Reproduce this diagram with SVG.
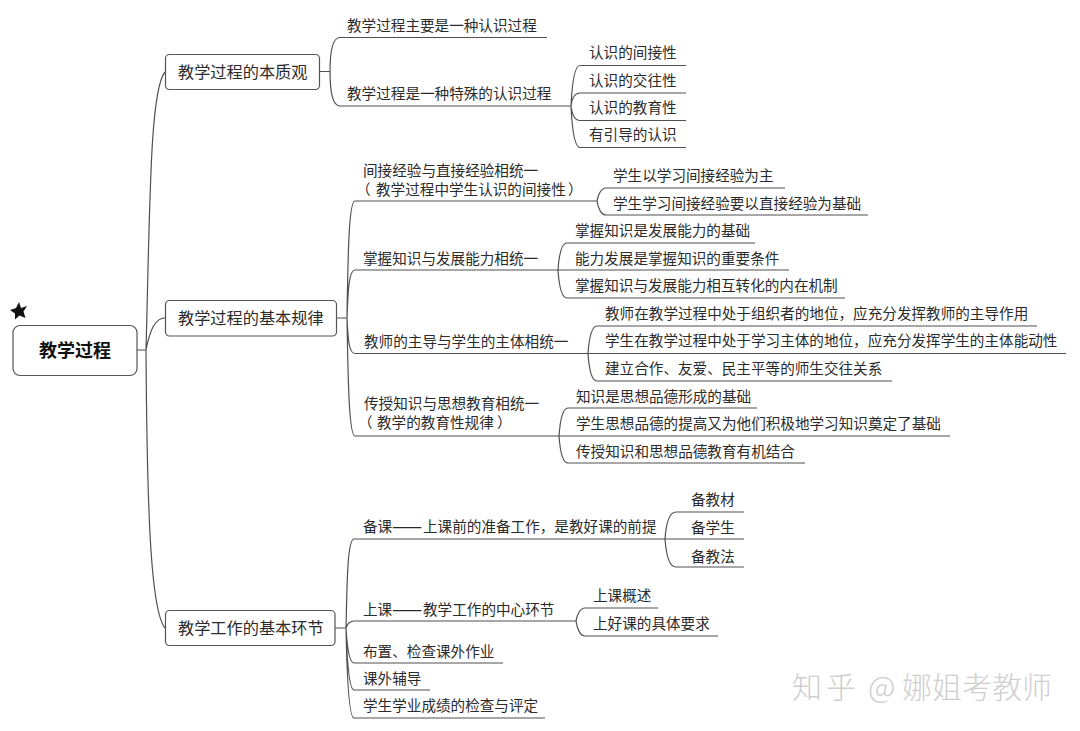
<svg xmlns="http://www.w3.org/2000/svg" width="1080" height="731" viewBox="0 0 1080 731">
<style>
text{font-family:"Noto Sans CJK SC","Liberation Sans",sans-serif;fill:#2b2b2b;font-size:14.6px}
.box{fill:#fff;stroke:#555;stroke-width:1.2}
.l1{font-size:16.2px}
.root{font-size:18px;font-weight:700;fill:#111;text-anchor:middle}
.wm{font-size:30px;font-weight:300;fill:#cfcfcf}
.dash{font-size:18px}
#connectors path{fill:none;stroke:#505050;stroke-width:1.2}
</style>
<rect width="1080" height="731" fill="#fff"/>
<g id="connectors">
<path d="M137 350H146M146 350C150 200 150 90 165 72M146 350C150 330 155 318 165 318M146 350C147 500 150 610 165 628"/>
<path d="M319.500 71.500H330M330 71.500C330 50 333 37.500 340 37.500H547M330 71.500C330 93 333 106 340 106H571"/>
<path d="M571 106C572 85 574 65.500 580 65.500H686M571 106C572 98 574 93 580 93H686M571 106C572 114 574 120.500 580 120.500H686M571 106C572 127 574 147.500 580 147.500H686"/>
<path d="M336.500 318H347M347 318C348 250 349 201 355 201H597M347 318C348 290 349 270 355 270H558M347 318C348 340 349 353.500 355 353.500H588M347 318C348 380 349 436 355 436H559"/>
<path d="M597 201C598 195 601 188 606 188H785M597 201C598 208 601 215 606 215H868"/>
<path d="M558 270C559 255 561 243 567 243H755M558 270H789M558 270C559 285 561 298 567 298H845"/>
<path d="M588 353.500C589 340 591 326 597 326H1037M588 353.500H1066M588 353.500C589 368 591 381 597 381H892"/>
<path d="M559 436C560 422 562 408 568 408H757M559 436H950M559 436C560 450 562 463 568 463H805"/>
<path d="M335 628H346M346 628C347 590 347 539 354 539H665M346 628C347 625 349 621 354 621H576M346 628C347 645 349 663 354 663H503M346 628C347 660 349 690 354 690H430M346 628C347 680 349 718 354 718H545"/>
<path d="M665 539C666 525 669 512 676 512H744M665 539H744M665 539C666 553 669 567 676 567H744"/>
<path d="M576 621C577 615 580 608 585 608H658M576 621C577 628 580 636 585 636H718"/>
</g>
<g id="root">
<rect class="box" x="13" y="325.500" width="124" height="50" rx="7"/>
<text class="root" x="75" y="357">教学过程</text>
<polygon points="19,302 21,308 27,306 23.500,311.500 25.500,318 19.500,315.500 15,319.500 15,313.500 10,310 16,308" fill="#111"/>
</g>
<g id="n-essence"><rect class="box" x="165.500" y="54.500" width="154" height="35" rx="4"/><text class="l1" x="178" y="78">教学过程的本质观</text></g>
<g id="n-laws"><rect class="box" x="165.500" y="300.500" width="171" height="35.500" rx="4"/><text class="l1" x="178" y="324">教学过程的基本规律</text></g>
<g id="n-steps"><rect class="box" x="165.500" y="610.500" width="169.500" height="35" rx="4"/><text class="l1" x="178" y="634">教学工作的基本环节</text></g>
<g id="leaves">
<g id="t1"><text x="347" y="31">教学过程主要是一种认识过程</text></g>
<g id="t2"><text x="347" y="99">教学过程是一种特殊的认识过程</text></g>
<g id="t3"><text x="589" y="58">认识的间接性</text></g>
<g id="t4"><text x="589" y="86">认识的交往性</text></g>
<g id="t5"><text x="589" y="113">认识的教育性</text></g>
<g id="t6"><text x="589" y="140">有引导的认识</text></g>
<g id="t7"><text x="363" y="176">间接经验与直接经验相统一</text><text y="195"><tspan x="356">（</tspan><tspan x="376">教学过程中学生认识的间接性</tspan><tspan x="568">）</tspan></text></g>
<g id="t8"><text x="613" y="181">学生以学习间接经验为主</text></g>
<g id="t9"><text x="613" y="209">学生学习间接经验要以直接经验为基础</text></g>
<g id="t10"><text x="363" y="264">掌握知识与发展能力相统一</text></g>
<g id="t11"><text x="575" y="236">掌握知识是发展能力的基础</text></g>
<g id="t12"><text x="575" y="264">能力发展是掌握知识的重要条件</text></g>
<g id="t13"><text x="575" y="291">掌握知识与发展能力相互转化的内在机制</text></g>
<g id="t14"><text x="364" y="347">教师的主导与学生的主体相统一</text></g>
<g id="t15"><text x="605" y="319">教师在教学过程中处于组织者的地位，应充分发挥教师的主导作用</text></g>
<g id="t16"><text x="605" y="346">学生在教学过程中处于学习主体的地位，应充分发挥学生的主体能动性</text></g>
<g id="t17"><text x="605" y="374">建立合作、友爱、民主平等的师生交往关系</text></g>
<g id="t18"><text x="364" y="409">传授知识与思想教育相统一</text><text y="428"><tspan x="358">（</tspan><tspan x="377">教学的教育性规律</tspan><tspan x="497">）</tspan></text></g>
<g id="t19"><text x="576" y="402">知识是思想品德形成的基础</text></g>
<g id="t20"><text x="576" y="429">学生思想品德的提高又为他们积极地学习知识奠定了基础</text></g>
<g id="t21"><text x="576" y="457">传授知识和思想品德教育有机结合</text></g>
<g id="t22"><text y="532"><tspan x="363">备课</tspan><tspan class="dash" x="392" dy="1.300">——</tspan><tspan x="423" dy="-1.300">上课前的准备工作，是教好课的前提</tspan></text></g>
<g id="t23"><text x="691" y="505">备教材</text></g>
<g id="t24"><text x="691" y="533">备学生</text></g>
<g id="t25"><text x="691" y="562">备教法</text></g>
<g id="t26"><text y="615"><tspan x="363">上课</tspan><tspan class="dash" x="392" dy="1.300">——</tspan><tspan x="423" dy="-1.300">教学工作的中心环节</tspan></text></g>
<g id="t27"><text x="593" y="601">上课概述</text></g>
<g id="t28"><text x="593" y="629">上好课的具体要求</text></g>
<g id="t29"><text x="363" y="657">布置、检查课外作业</text></g>
<g id="t30"><text x="363" y="684">课外辅导</text></g>
<g id="t31"><text x="363" y="711">学生学业成绩的检查与评定</text></g>
</g>
<text class="wm" y="698"><tspan x="792">知</tspan><tspan x="826">乎</tspan><tspan x="868">@</tspan><tspan x="902">娜姐考教师</tspan></text>
</svg>
